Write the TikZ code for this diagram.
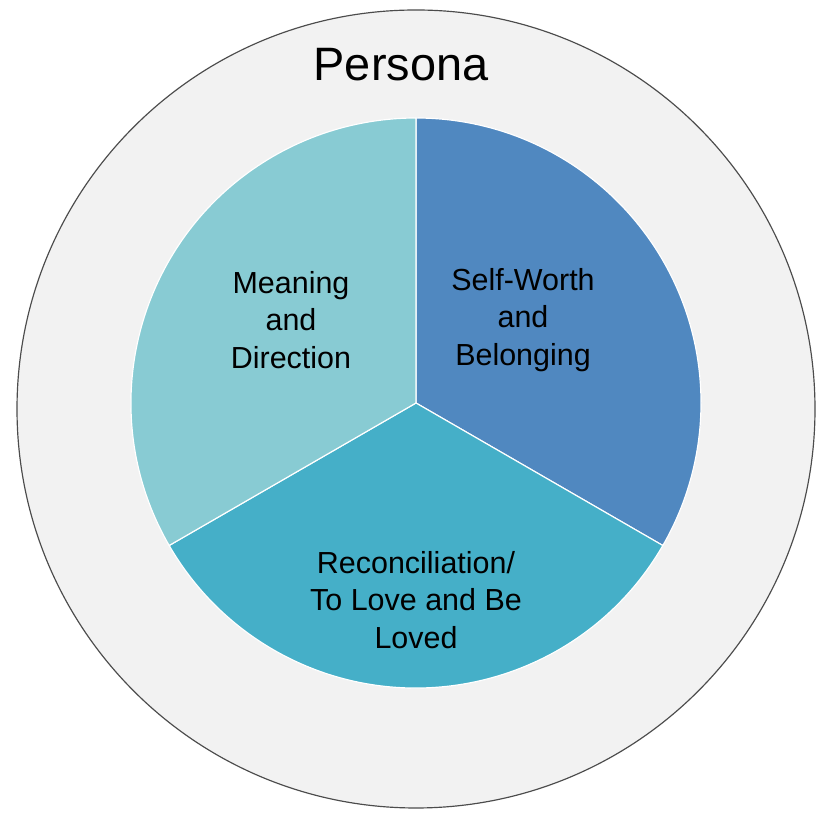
\documentclass[tikz,border=0pt]{standalone}
\usepackage{fontspec}
\setmainfont{Liberation Sans}
\definecolor{ringgray}{HTML}{F2F2F2}
\definecolor{selfblue}{HTML}{5088C0}
\definecolor{reconblue}{HTML}{45AFC8}
\definecolor{meaningblue}{HTML}{88CBD3}
\tikzset{
	slice/.style={draw=white,line width=1pt},
	label/.style={align=center,font=\fontsize{26}{32}\selectfont}
}
\begin{document}
\begin{tikzpicture}[x=0.03cm,y=0.03cm]
	\useasboundingbox (0,0) rectangle (831,818);
	
	\draw[fill=ringgray,draw=black!70,line width=1pt] (416,409) circle (399);
	
	\node[font=\fontsize{40}{48}\selectfont] (persona) at (401,753){Persona};
	
	\coordinate (c) at (416,415);
	\fill[selfblue,slice] (c) -- +(90:285) arc (90:-30:285) -- cycle;
	\fill[reconblue,slice] (c) -- +(-30:285) arc (-30:-150:285) -- cycle;
	\fill[meaningblue,slice] (c) -- +(210:285) arc (210:90:285) -- cycle;
	
	\node[label] (meaning) at (291,498){Meaning\\ and\\ Direction};
	\node[label] (self) at (523,498){Self-Worth\\ and\\ Belonging};
	\node[label] (recon) at (416,218){Reconciliation/\\ To Love and Be\\ Loved};
\end{tikzpicture}
\end{document}
